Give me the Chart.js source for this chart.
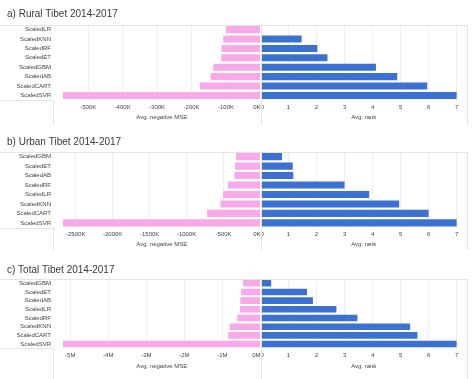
<!DOCTYPE html>
<html><head><meta charset="utf-8">
<script src="https://cdn.jsdelivr.net/npm/chart.js@4"></script>
<style>
html,body{margin:0;padding:0;background:#fff;}
.p{position:absolute;left:0;width:474px;}
</style></head>
<body>
<div class="p" style="top:0px;height:125px"><canvas id="ca" width="474" height="125"></canvas></div>
<div class="p" style="top:125px;height:125px"><canvas id="cb" width="474" height="125"></canvas></div>
<div class="p" style="top:250px;height:129px"><canvas id="cc" width="474" height="129"></canvas></div>
<script>
// ---- data ----
const ruralLabels = ['ScaledLR','ScaledKNN','ScaledRF','ScaledET','ScaledGBM','ScaledAB','ScaledCART','ScaledSVR'];
const ruralMse = [-100000,-108000,-113000,-114000,-137000,-145000,-176000,-573000];
const ruralRank = [0.05,1.47,2.03,2.39,4.12,4.88,5.95,7];

const urbanLabels = ['ScaledGBM','ScaledET','ScaledAB','ScaledRF','ScaledLR','ScaledKNN','ScaledCART','ScaledSVR'];
const urbanMse = [-330000,-344000,-353000,-439000,-507000,-543000,-724000,-2672000];
const urbanRank = [0.77,1.15,1.17,3.0,3.88,4.95,6.0,7];

const totalLabels = ['ScaledGBM','ScaledET','ScaledAB','ScaledLR','ScaledRF','ScaledKNN','ScaledCART','ScaledSVR'];
const totalMse = [-460000,-510000,-530000,-540000,-610000,-810000,-850000,-5190000];
const totalRank = [0.38,1.66,1.87,2.71,3.46,5.34,5.6,7];

const ruralMseTicks = [-500000,-400000,-300000,-200000,-100000,0];
const urbanMseTicks = [-2500000,-2000000,-1500000,-1000000,-500000,0];
const totalMseTicks = [-5000000,-4000000,-3000000,-2000000,-1000000,0];
const rankTicks = [0,1,2,3,4,5,6,7];
const rankMax = 7.37;

const titles = ['a) Rural Tibet 2014-2017','b) Urban Tibet 2014-2017','c) Total Tibet 2014-2017'];
const mseTitle = 'Avg. negative MSE';
const rankTitle = 'Avg. rank';

// ---- styling ----
const FONT = "'Liberation Sans', Arial, sans-serif";
const PINK = '#f8a9ea';
const BLUE = '#3b71d1';
const GRID = '#efefef';
const FRAME = '#e4e4e4';

const framePlugin = {
  id: 'frame',
  afterDraw(chart) {
    const {ctx, chartArea: a, height} = chart;
    const x0 = chart.scales.xR.getPixelForValue(0);
    ctx.save();
    ctx.strokeStyle = FRAME;
    ctx.lineWidth = 1;
    ctx.beginPath();
    ctx.moveTo(0, Math.round(a.top) + 0.5); ctx.lineTo(a.right, Math.round(a.top) + 0.5);
    ctx.moveTo(0, Math.round(a.bottom) + 0.5); ctx.lineTo(a.left - 10, Math.round(a.bottom) + 0.5);
    ctx.moveTo(Math.round(a.left - 10) + 0.5, a.bottom); ctx.lineTo(Math.round(a.left - 10) + 0.5, height);
    ctx.moveTo(Math.round(x0) + 0.5, a.top); ctx.lineTo(Math.round(x0) + 0.5, height);
    ctx.moveTo(Math.round(a.right) + 0.5, a.top); ctx.lineTo(Math.round(a.right) + 0.5, height);
    ctx.stroke();
    ctx.restore();
  }
};

function makeChart(id, title, labels, mse, rank, mseTicks, unit, div, lay) {
  const mseMin = Math.min(...mse);
  return new Chart(document.getElementById(id), {
    type: 'bar',
    data: {
      labels: labels,
      datasets: [
        {data: mse, xAxisID: 'xL', yAxisID: 'y', backgroundColor: PINK, grouped: false,
         barPercentage: 0.75, categoryPercentage: 1},
        {data: rank, xAxisID: 'xR', yAxisID: 'y', backgroundColor: BLUE, grouped: false,
         barPercentage: 0.75, categoryPercentage: 1}
      ]
    },
    plugins: [framePlugin],
    options: {
      indexAxis: 'y',
      responsive: false,
      animation: false,
      layout: {padding: {left: 7, right: 7, top: 0, bottom: 0}},
      plugins: {
        legend: {display: false},
        tooltip: {enabled: false},
        title: {display: true, text: title, align: 'start', color: '#3a3a3a',
                font: {family: FONT, size: 10, weight: 'normal'},
                padding: {top: lay.tpt, bottom: lay.tpb}}
      },
      scales: {
        y: {
          type: 'category',
          grid: {display: false, drawTicks: false},
          border: {display: false},
          ticks: {font: {family: FONT, size: 6}, color: '#444', padding: 12, autoSkip: false},
          afterFit(s) { s.width = 56; }
        },
        xL: {
          type: 'linear', position: 'bottom', stack: 'x', stackWeight: 197.5,
          min: mseMin, max: 0,
          afterBuildTicks(s) { s.ticks = [mseMin, ...mseTicks].map(v => ({value: v})); },
          grid: {drawTicks: false, color: c => (c.tick && (c.tick.value === mseMin || c.tick.value === 0)) ? 'rgba(0,0,0,0)' : GRID},
          border: {display: false},
          ticks: {align: 'inner', font: {family: FONT, size: 6}, color: '#444', padding: lay.tp,
                  maxRotation: 0, autoSkip: false,
                  callback: v => v === mseMin ? '' : (v / div) + unit},
          title: {display: true, text: mseTitle, color: '#444', font: {family: FONT, size: 6},
                  padding: {top: lay.apt, bottom: lay.apb}}
        },
        xR: {
          type: 'linear', position: 'bottom', stack: 'x', stackWeight: 206.5,
          min: 0, max: rankMax,
          afterBuildTicks(s) { s.ticks = [...rankTicks, rankMax].map(v => ({value: v})); },
          grid: {drawTicks: false, color: c => (c.tick && (c.tick.value === 0 || c.tick.value === rankMax)) ? 'rgba(0,0,0,0)' : GRID},
          border: {display: false},
          ticks: {align: 'inner', font: {family: FONT, size: 6}, color: '#444', padding: lay.tp,
                  maxRotation: 0, autoSkip: false,
                  callback: v => v === rankMax ? '' : String(v)},
          title: {display: true, text: rankTitle, color: '#444', font: {family: FONT, size: 6},
                  padding: {top: lay.apt, bottom: lay.apb}}
        }
      }
    }
  });
}

makeChart('ca', titles[0], ruralLabels, ruralMse, ruralRank, ruralMseTicks, 'K', 1000,
  {tpt: 8.3, tpb: 4.6, tp: 4, apt: -1.9, apb: 4.4});
makeChart('cb', titles[1], urbanLabels, urbanMse, urbanRank, urbanMseTicks, 'K', 1000,
  {tpt: 11.3, tpb: 3.6, tp: 2.7, apt: 0.2, apb: 2.4});
makeChart('cc', titles[2], totalLabels, totalMse, totalRank, totalMseTicks, 'M', 1000000,
  {tpt: 14.3, tpb: 2.6, tp: 3, apt: 0.8, apb: 9.4});
</script>
</body></html>
